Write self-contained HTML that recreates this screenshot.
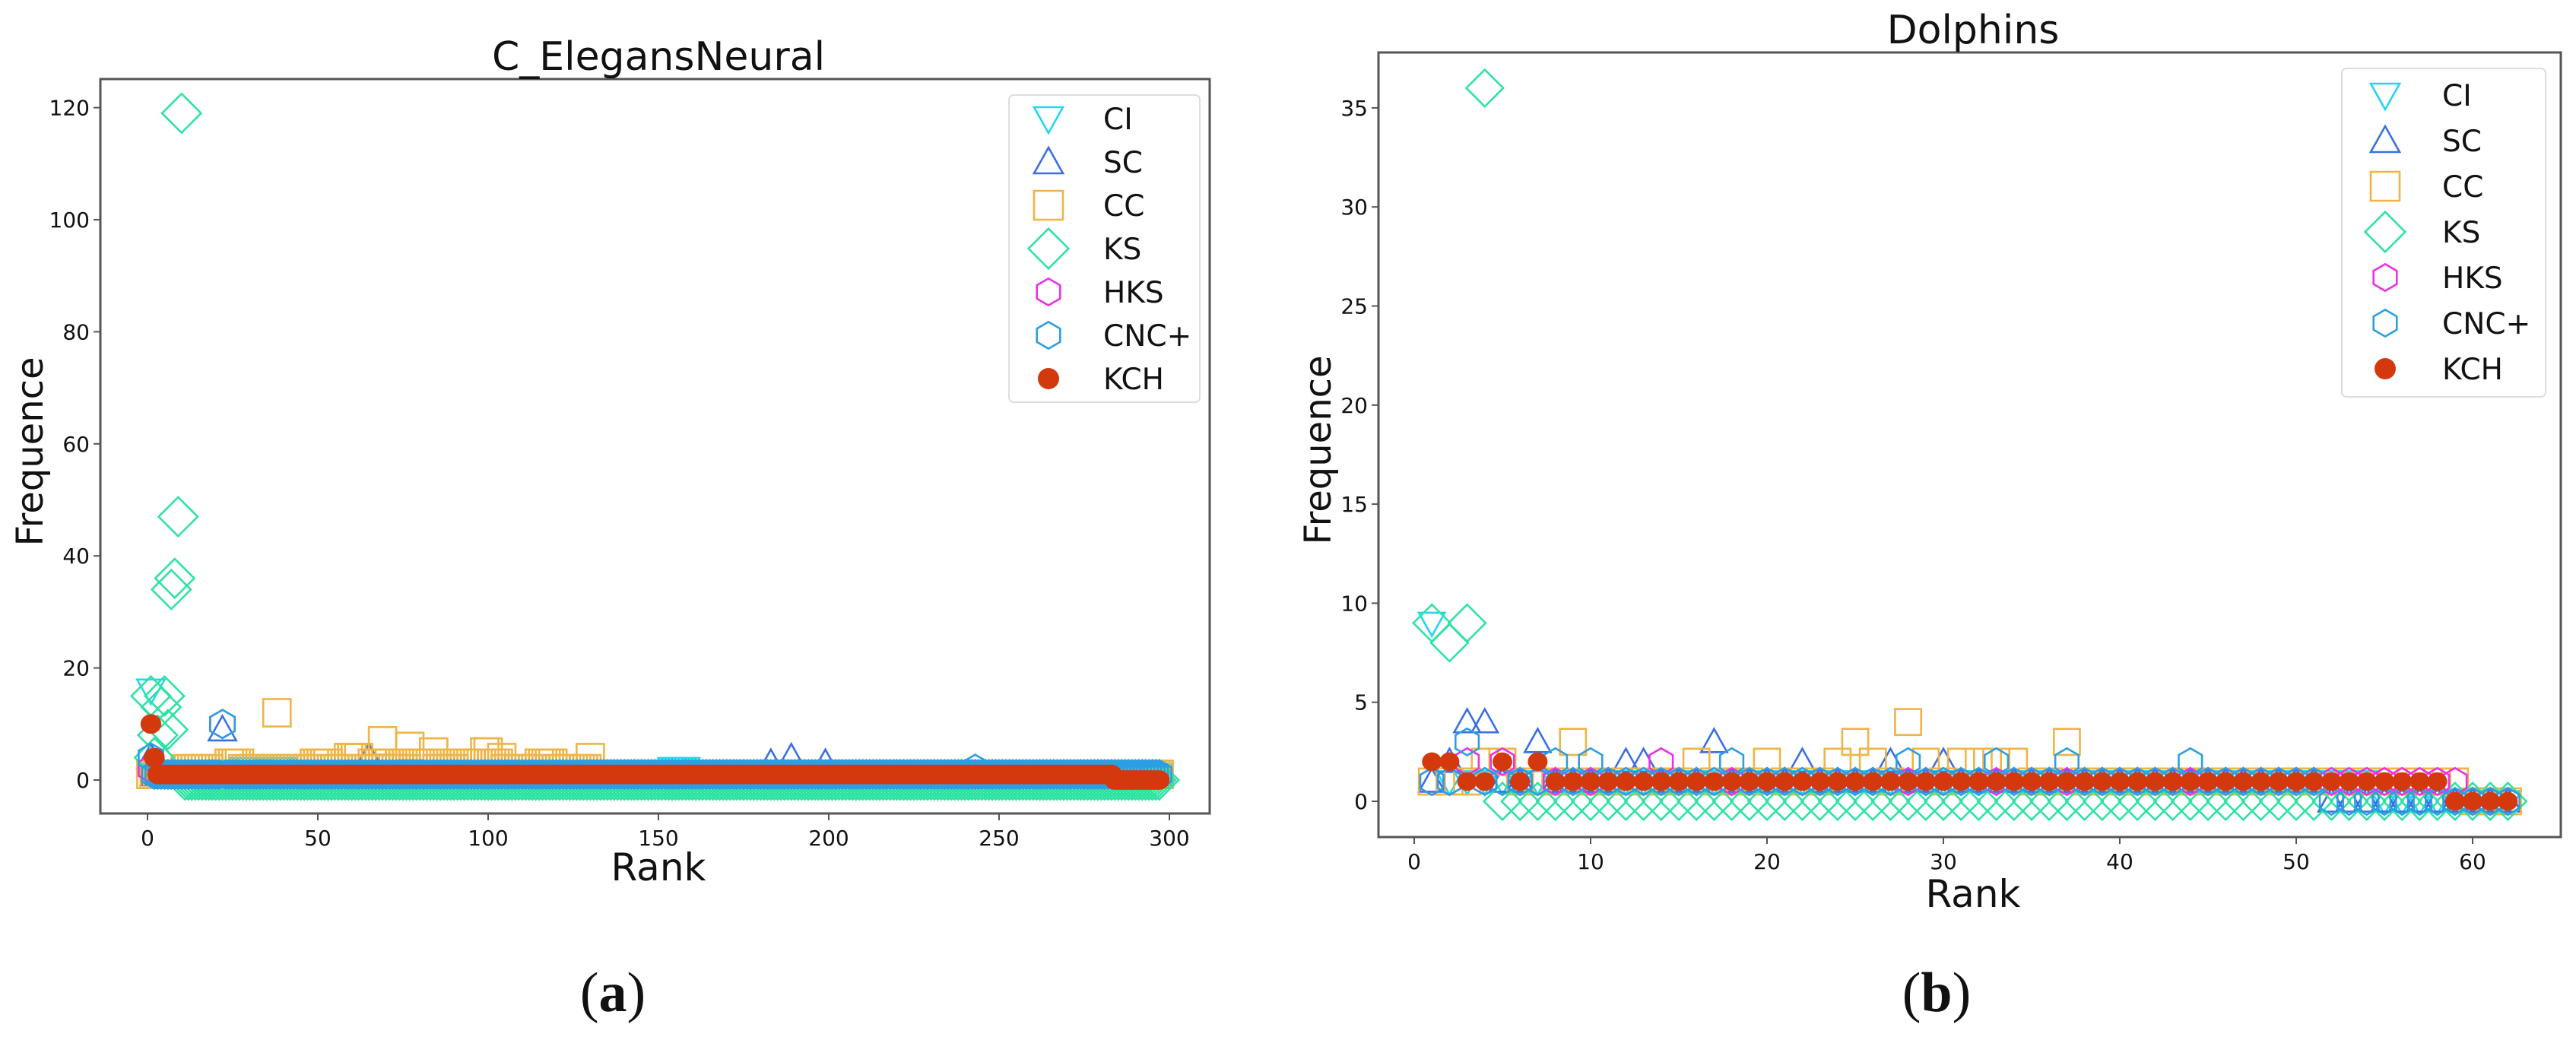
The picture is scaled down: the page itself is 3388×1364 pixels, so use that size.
<!DOCTYPE html>
<html><head><meta charset="utf-8">
<style>
html,body{margin:0;padding:0;background:#fff;}
svg{display:block;}
text{font-family:"DejaVu Sans","Liberation Sans",sans-serif;fill:#111;}
</style></head>
<body>
<svg id="fig" width="3388" height="1364" viewBox="0 0 3388 1364" xmlns="http://www.w3.org/2000/svg">
<rect x="0" y="0" width="3388" height="1364" fill="#fff"/>
<g id="chartA"></g>
<g id="chartB"></g>
<text x="806" y="1330" text-anchor="middle" style="font-family:'Liberation Serif',serif;font-size:74px;">(<tspan font-weight="bold">a</tspan>)</text>
<text x="2547" y="1330" text-anchor="middle" style="font-family:'Liberation Serif',serif;font-size:74px;">(<tspan font-weight="bold">b</tspan>)</text>
</svg>
<script>
// ---- data: run-length pairs [value, count], ranks start at 1 ----
const seriesNames = ["CI","SC","CC","KS","HKS","CNC+","KCH"];
const ciA  = [[16,1],[1,26],[2,3],[1,7],[2,3],[1,113],[2,5],[1,139]];
const scA  = [[4,1],[1,20],[9,1],[1,42],[4,1],[1,117],[3,1],[1,5],[4,1],[1,9],[3,1],[1,98]];
const ccA  = [[1,10],[2,8],[1,5],[3,4],[2,10],[12,1],[2,10],[3,5],[2,5],[4,4],[2,3],[3,3],[7,1],[3,2],[2,5],[6,1],[3,6],[5,1],[2,6],[3,8],[5,2],[3,3],[4,1],[2,10],[3,5],[2,10],[4,1],[1,167]];
const ksA  = [[15,1],[4,1],[8,1],[13,1],[15,1],[9,1],[34,1],[36,1],[47,1],[119,1],[0,287]];
const hksA = [[2,1],[1,20],[10,1],[1,275]];
const cncA = [[4,1],[1,20],[10,1],[1,220],[2,1],[1,54]];
const kchA = [[10,1],[4,1],[1,281],[0,14]];

const ciB  = [[9,1],[1,53],[0,8]];
const scB  = [[1,1],[2,1],[4,2],[1,2],[3,1],[1,4],[2,2],[1,3],[3,1],[1,4],[2,1],[1,4],[2,1],[1,2],[2,1],[1,21],[0,11]];
const ccB  = [[1,3],[2,2],[1,3],[3,1],[1,6],[2,1],[1,3],[2,1],[1,3],[2,1],[3,1],[2,1],[1,1],[4,1],[2,1],[1,1],[2,4],[1,2],[3,1],[1,22],[0,3]];
const ksB  = [[9,1],[8,1],[9,1],[36,1],[0,58]];
const hksB = [[1,2],[2,1],[1,1],[2,1],[1,8],[2,1],[1,45],[0,3]];
const cncB = [[1,2],[3,1],[1,4],[2,1],[1,1],[2,1],[1,7],[2,1],[1,9],[2,1],[1,4],[2,1],[1,3],[2,1],[1,6],[2,1],[1,7],[0,11]];
const kchB = [[2,2],[1,2],[2,1],[1,1],[2,1],[1,51],[0,4]];

const xTicksA = [0,50,100,150,200,250,300];
const yTicksA = [0,20,40,60,80,100,120];
const xTicksB = [0,10,20,30,40,50,60];
const yTicksB = [0,5,10,15,20,25,30,35];

const NS = "http://www.w3.org/2000/svg";
function mk(parent, tag, attrs){
  const e = document.createElementNS(NS, tag);
  for (const k in attrs) e.setAttribute(k, attrs[k]);
  parent.appendChild(e);
  return e;
}
function decode(runs){
  const out = [];
  runs.forEach(r => { for (let i=0;i<r[1];i++) out.push(r[0]); });
  return out;
}
const colors = {"CI":"#22d6ee","SC":"#3a6fe3","CC":"#efb445","KS":"#2ee3a2","HKS":"#ec2fe8","CNC+":"#2b9fe3","KCH":"#d4380d"};

function markerPath(type, cx, cy, s){
  if (type==="CI") return `M${cx-s*0.95},${cy-s*0.75} L${cx+s*0.95},${cy-s*0.75} L${cx},${cy+s*0.95} Z`;
  if (type==="SC") return `M${cx-s*0.95},${cy+s*0.75} L${cx+s*0.95},${cy+s*0.75} L${cx},${cy-s*0.95} Z`;
  if (type==="CC") return `M${cx-s*0.95},${cy-s*0.95} h${s*1.9} v${s*1.9} h${-s*1.9} Z`;
  if (type==="KS") return `M${cx},${cy-s*1.35} L${cx+s*1.35},${cy} L${cx},${cy+s*1.35} L${cx-s*1.35},${cy} Z`;
  let d = "";
  for (let i=0;i<6;i++){
    const a = Math.PI/180*(90+60*i);
    const px = cx + s*0.98*Math.cos(a), py = cy - s*0.98*Math.sin(a);
    d += (i===0?"M":"L")+px.toFixed(1)+","+py.toFixed(1)+" ";
  }
  return d+"Z";
}

function drawChart(g, cfg){
  const sx = v => cfg.x0 + v*cfg.xs;
  const sy = v => cfg.y0 - v*cfg.ys;
  const ax = mk(g,"rect",{x:cfg.left,y:cfg.top,width:cfg.right-cfg.left,height:cfg.bottom-cfg.top,fill:"none",stroke:"#555",
    "stroke-width":3});
  
  
  const t = mk(g,"text",{x:cfg.titleX,y:cfg.titleY,"text-anchor":"middle","font-size":52});
  t.textContent = cfg.title;
  
  
  cfg.xTicks.forEach(v=>{
    const tk = mk(g,"line",{x1:sx(v),x2:sx(v),y1:cfg.bottom,y2:cfg.bottom+9,stroke:"#555","stroke-width":2});
    
    
    const tl = mk(g,"text",{x:sx(v),y:cfg.bottom+42,"text-anchor":"middle","font-size":28});
    tl.textContent = v;
    
    
  });
  cfg.yTicks.forEach(v=>{
    const tk = mk(g,"line",{x1:cfg.left-9,x2:cfg.left,y1:sy(v),y2:sy(v),stroke:"#555","stroke-width":2});
    
    
    const tl = mk(g,"text",{x:cfg.left-14,y:sy(v)+10,"text-anchor":"end","font-size":28});
    tl.textContent = v;
    
    
  });
  const xl = mk(g,"text",{x:cfg.xLabX,y:cfg.xLabY,"text-anchor":"middle","font-size":50});
  xl.textContent = "Rank";
  
  
  const yl = mk(g,"text",{x:0,y:0,"text-anchor":"middle","font-size":48,transform:`translate(${cfg.yLabX},${cfg.yLabY}) rotate(-90)`});
  yl.textContent = "Frequence";
  
  

  seriesNames.forEach((name,si)=>{
    const vals = decode(cfg.series[si]);
    const sg = mk(g,"g",{});
    
    
    vals.forEach((v,i)=>{
      const cx = sx(i+1), cy = sy(v);
      let m;
      if (name==="KCH"){
        m = mk(sg,"ellipse",{cx:cx,cy:cy,rx:cfg.ms*0.72,ry:cfg.ms*0.68,fill:colors[name]});
      } else {
        m = mk(sg,"path",{d:markerPath(name,cx,cy,cfg.ms),fill:"none",stroke:colors[name],"stroke-width":2.6,"stroke-linejoin":"miter"});
      }
      
      
    });
  });

  const L = cfg.legend;
  const lg = mk(g,"g",{});
  
  
  mk(lg,"rect",{x:L.x,y:L.y,width:L.w,height:L.h,rx:6,fill:"#fff","fill-opacity":0.85,stroke:"#ddd","stroke-width":2});
  seriesNames.forEach((name,i)=>{
    const cy = L.y0 + i*L.dy;
    const eg = mk(lg,"g",{});
    
    
    if (name==="KCH") mk(eg,"circle",{cx:L.mx,cy:cy,r:14,fill:colors[name]});
    else if (name==="HKS"||name==="CNC+") mk(eg,"path",{d:markerPath(name,L.mx,cy,18),fill:"none",stroke:colors[name],"stroke-width":2.6});
    else mk(eg,"path",{d:markerPath(name,L.mx,cy,name==="KS"?19.5:20),fill:"none",stroke:colors[name],"stroke-width":2.6});
    const tx = mk(eg,"text",{x:L.tx,y:cy+14,"font-size":39});
    tx.textContent = name;
  });
}

drawChart(document.getElementById("chartA"),{
  title:"C_ElegansNeural", titleX:866, titleY:92,
  left:132,right:1591,top:104,bottom:1070,
  x0:194,xs:4.48,y0:1026,ys:7.37,
  xTicks:xTicksA,yTicks:yTicksA,
  xLabX:866,xLabY:1158,yLabX:56,yLabY:594,
  ms:19,
  series:[ciA,scA,ccA,ksA,hksA,cncA,kchA],
  legend:{x:1327,y:125,w:251,h:404,y0:156,dy:57,mx:1379,tx:1451}
});
drawChart(document.getElementById("chartB"),{
  title:"Dolphins", titleX:2595, titleY:57,
  left:1813,right:3368,top:69,bottom:1101,
  x0:1860,xs:23.2,y0:1054,ys:26.06,
  xTicks:xTicksB,yTicks:yTicksB,
  xLabX:2595,xLabY:1193,yLabX:1750,yLabY:592,
  ms:18,
  series:[ciB,scB,ccB,ksB,hksB,cncB,kchB],
  legend:{x:3080,y:90,w:268,h:432,y0:125,dy:60,mx:3137,tx:3212}
});
</script>
</body></html>
